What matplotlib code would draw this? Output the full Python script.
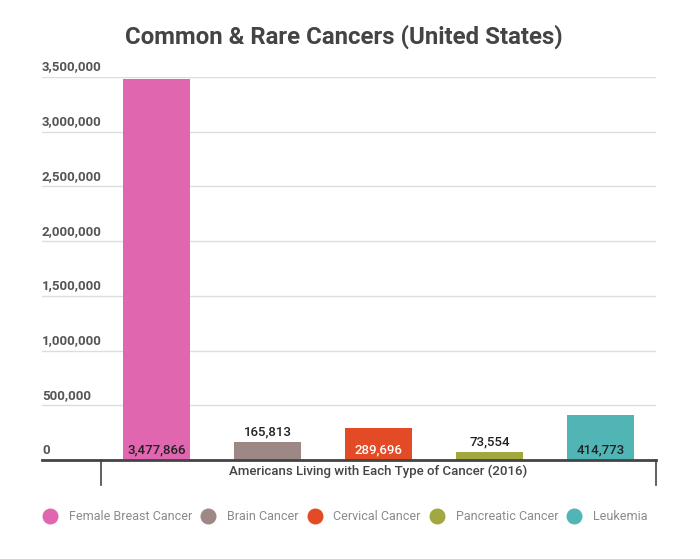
import matplotlib.pyplot as plt
from matplotlib.lines import Line2D

plt.rcParams['font.family'] = ['Roboto', 'DejaVu Sans']

# data
cancers = ['Female Breast Cancer', 'Brain Cancer', 'Cervical Cancer',
           'Pancreatic Cancer', 'Leukemia']
people = [3477866, 165813, 289696, 73554, 414773]
colors = ['#E066B0', '#9E8886', '#E34B26', '#A0A83F', '#52B5B5']
label_colors = ['#222222', '#222222', '#FFFFFF', '#222222', '#222222']
yticks = [0, 500000, 1000000, 1500000, 2000000, 2500000, 3000000, 3500000]
xlabel = 'Americans Living with Each Type of Cancer (2016)'
title = 'Common & Rare Cancers (United States)'

W, H = 700, 559
fig = plt.figure(figsize=(W / 100, H / 100), dpi=100)
# axes from x=42..656 px, y=77..460 px
ax = fig.add_axes([42 / W, 1 - 460 / H, (656 - 42) / W, (460 - 77) / H])

x = list(range(len(cancers)))
ax.bar(x, people, width=0.61, color=colors, zorder=3)
ax.set_xlim(-0.5 - 59 / 111, 4.5)
ax.set_ylim(0, 3500000)

ax.set_yticks(yticks)
ax.yaxis.grid(True, color='#dddddd', linewidth=1, zorder=0)
ax.tick_params(axis='y', length=0, labelleft=False)
ax.tick_params(axis='x', length=0, labelbottom=False)
for s in ['top', 'right', 'left']:
    ax.spines[s].set_visible(False)
ax.spines['bottom'].set_color('#444444')
ax.spines['bottom'].set_linewidth(2)
ax.spines['bottom'].set_zorder(4)

# y tick labels sitting on top of gridlines
for v in yticks:
    ax.annotate(f'{v:,}', xy=(0, v), xycoords=('axes fraction', 'data'),
                xytext=(0, 2.5), textcoords='offset points',
                ha='left', va='bottom', fontsize=9.5, fontweight='bold',
                color='#555555')

# bar value labels
for xi, v, lc in zip(x, people, label_colors):
    if v > 250000:
        ax.annotate(f'{v:,}', xy=(xi, 0), xytext=(0, 2.5),
                    textcoords='offset points', ha='center', va='bottom',
                    fontsize=9.5, fontweight='medium', color=lc, zorder=5)
    else:
        ax.annotate(f'{v:,}', xy=(xi, v), xytext=(0, 2.5),
                    textcoords='offset points', ha='center', va='bottom',
                    fontsize=9.5, fontweight='medium', color='#222222', zorder=5)

# bracket lines under the category area
for xe in [-0.5, 4.5]:
    ax.plot([xe, xe], [0, -0.065], transform=ax.get_xaxis_transform(),
            color='#444444', linewidth=1.2, clip_on=False)

ax.text(2, -0.03, xlabel, transform=ax.get_xaxis_transform(),
        ha='center', va='center', fontsize=9.5, fontweight='medium',
        color='#444444')

fig.text(344 / W, 1 - 37 / H, title, ha='center', va='center',
         fontsize=17.3, fontweight='bold', color='#444444')

handles = [Line2D([0], [0], marker='o', linestyle='', markersize=10.5,
                  markerfacecolor=c, markeredgecolor=c) for c in colors]
fig.legend(handles, cancers, loc='center', bbox_to_anchor=(0.494, 1 - 517 / H),
           ncol=5, frameon=False, fontsize=9, labelcolor='#8a8a8a',
           handletextpad=1.0, columnspacing=0.78, handlelength=1.0)

fig.savefig('out.png', dpi=100)
